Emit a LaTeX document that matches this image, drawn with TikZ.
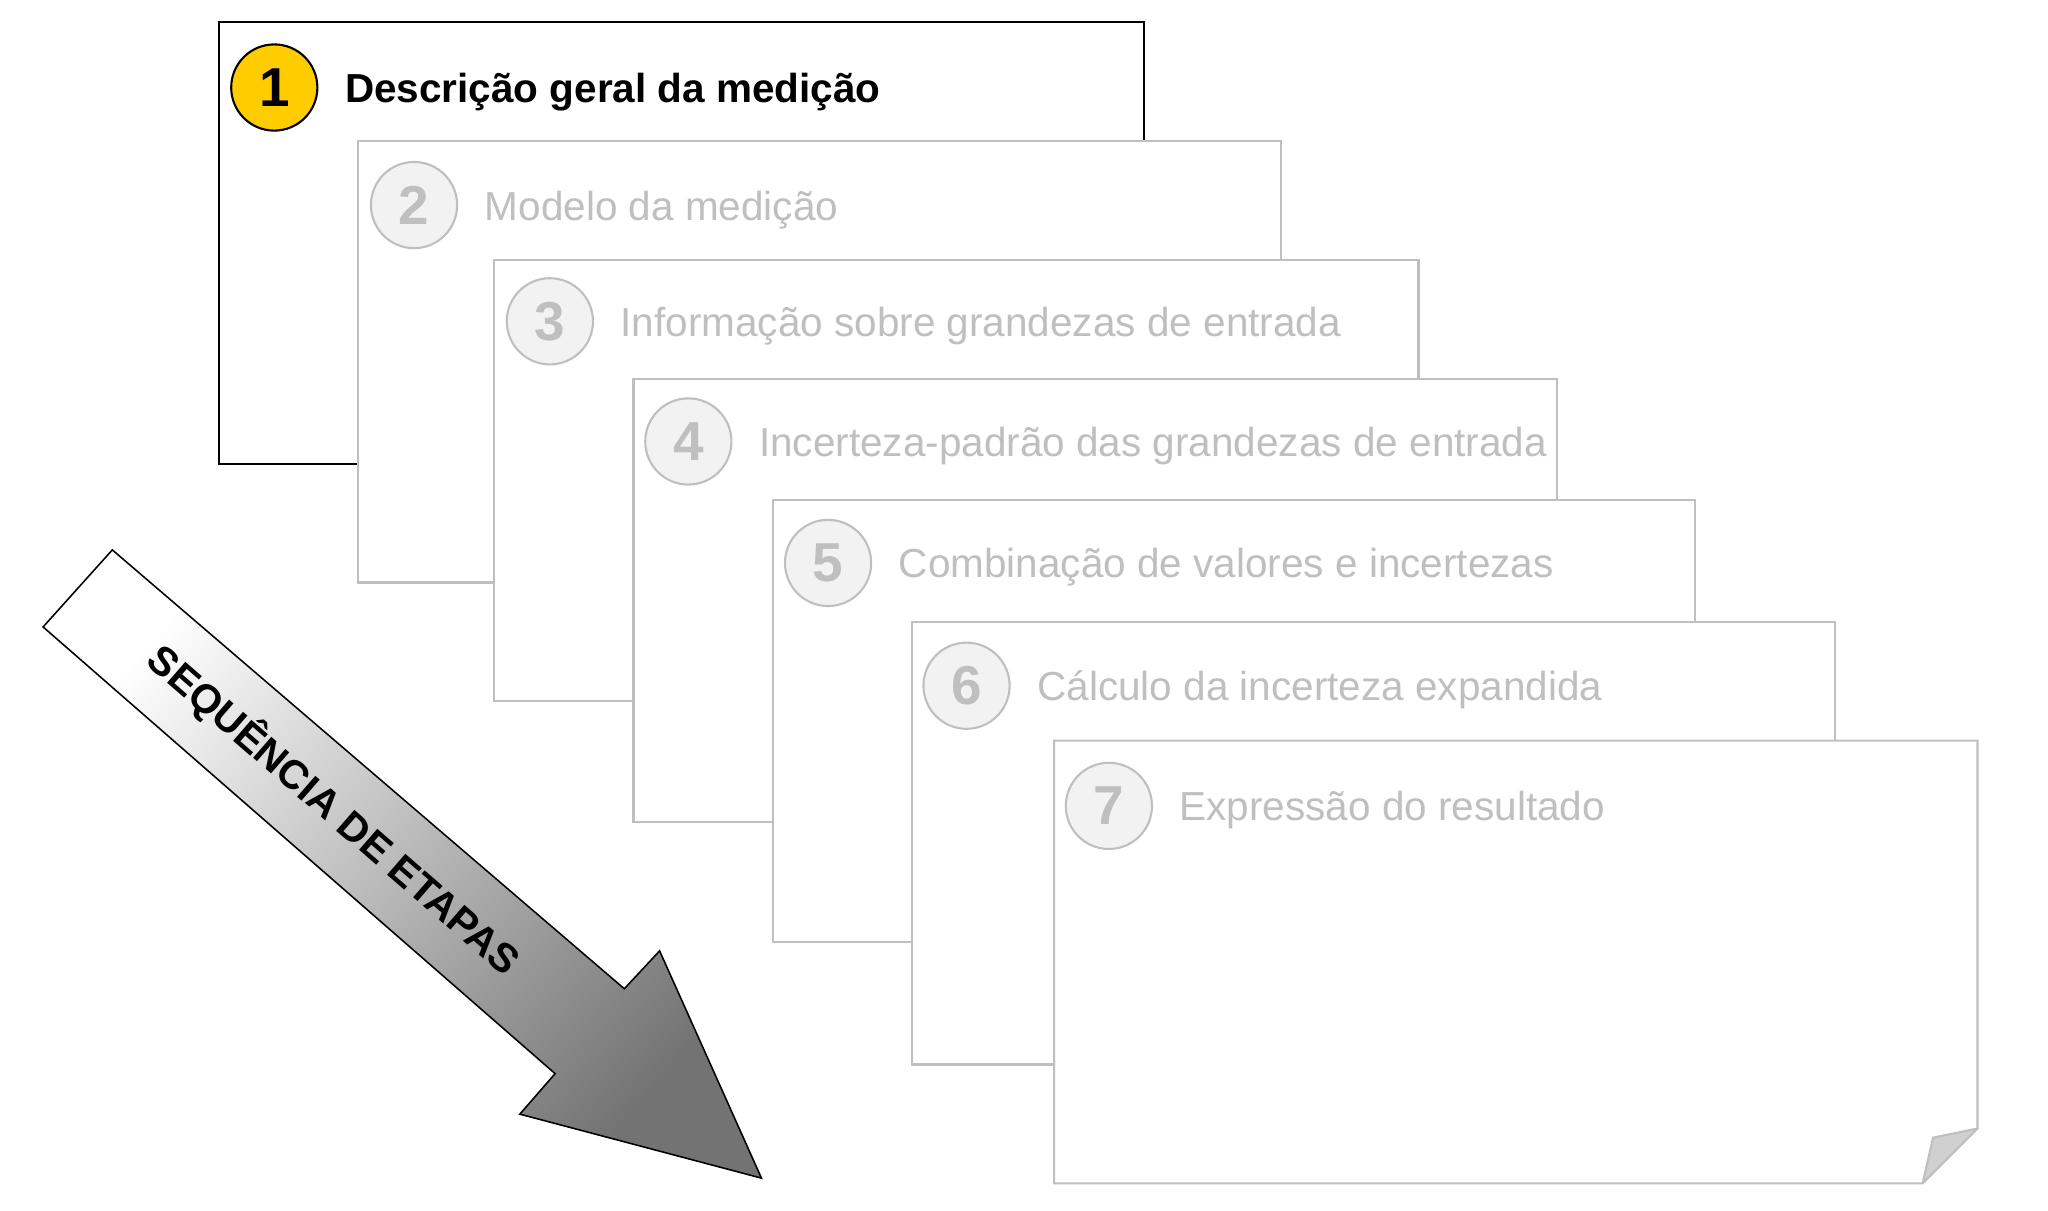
\documentclass[tikz,border=0pt]{standalone}
\usepackage{fontspec}
\setmainfont{Liberation Sans}
\usepackage{tikz}
\usetikzlibrary{positioning}

\definecolor{stepgold}{HTML}{FFCC00}
\definecolor{fadegray}{HTML}{BFBFBF}
\definecolor{fadefill}{HTML}{F2F2F2}
\definecolor{foldgray}{HTML}{D0D0D0}

\begin{document}
\begin{tikzpicture} [x = 0.5pt, y = -0.5pt,
  card/.style = {draw = fadegray, fill = white, line width = 0.8pt},
  num/.style = {draw = fadegray, fill = fadefill, circle, minimum size = 33pt, inner sep = 0pt, line width = 0.8pt, text = fadegray, font = \fontsize{21}{21}\selectfont\bfseries},
  title/.style = {inner sep = 0pt, text height = 15pt, text depth = 3.5pt, text = fadegray, font = \fontsize{15.5}{18}\selectfont}]
\useasboundingbox (0,0) rectangle (1568,927);
% cards, back to front
\draw [card, draw = black] (168,17) rectangle (876,355);
\node[num, draw = black, fill = stepgold, text = black](n1) at (210,67){1};
\node[title, right = 10pt of n1, text = black, font = \fontsize{15.5}{18}\selectfont\bfseries](t1){Descrição geral da medição};
\draw [card] (274,108) rectangle (981,446);
\node[num](n2) at (317,157){2};
\node[title, right = 10pt of n2](t2){Modelo da medição};
\draw [card] (378,199) rectangle (1086,537);
\node[num](n3) at (421,246){3};
\node[title, right = 10pt of n3](t3){Informação sobre grandezas de entrada};
\draw [card] (485,290) rectangle (1192,629);
\node[num](n4) at (527,338){4};
\node[title, right = 10pt of n4](t4){Incerteza-padrão das grandezas de entrada};
\draw [card] (592,383) rectangle (1298,721);
\node[num](n5) at (634,431){5};
\node[title, right = 10pt of n5](t5){Combinação de valores e incertezas};
\draw [card] (698,476) rectangle (1405,815);
\node[num](n6) at (740,525){6};
\node[title, right = 10pt of n6](t6){Cálculo da incerteza expandida};
\draw [card] (807,567) -- (1514,567) -- (1514,864) -- (1472,906) -- (807,906) -- cycle;
\draw [draw = fadegray, fill = foldgray, line width = 0.8pt, line join = round] (1514,864) -- (1480,871) -- (1472,906) -- cycle;
\node[num](n7) at (849,617){7};
\node[title, right = 10pt of n7](t7){Expressão do resultado};
% big arrow
\shade [draw = black, line width = 0.6pt, top color = white, bottom color = black!55, shading angle = 49]
  (86,421) -- (478,757) -- (505,728) -- (583,902) -- (398,853) -- (425,822) -- (33,480) -- cycle;
\node[rotate = -41, font = \fontsize{15.5}{18}\selectfont\bfseries](seq) at (256,620){SEQUÊNCIA DE ETAPAS};
\end{tikzpicture}
\end{document}
